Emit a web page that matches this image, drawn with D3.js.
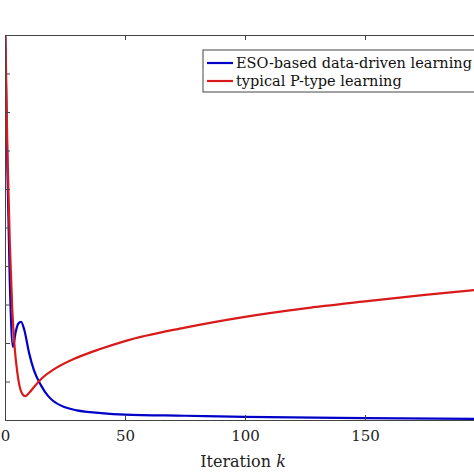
<!DOCTYPE html>
<html><head><meta charset="utf-8">
<script src="https://cdn.jsdelivr.net/npm/d3@7"></script>
<style>body{margin:0;background:#fff}text{font-family:"DejaVu Serif","Liberation Serif",serif}</style>
</head><body>
<svg id="chart" width="474" height="474"></svg>
<script>
const blueK = [0, 1, 2, 3.3, 4.5, 5.5, 6.7, 8, 10, 12, 15, 18, 20, 25, 30, 40, 50, 75, 100, 150, 200];
const blueV = [10.3, 6.5, 3.6, 1.9, 2.3, 2.5, 2.55, 2.35, 1.75, 1.3, 0.9, 0.62, 0.5, 0.33, 0.25, 0.18, 0.14, 0.11, 0.08, 0.05, 0.03];
const redK = [0, 1, 2, 3, 4, 5, 6, 7, 8.3, 10, 12, 15.5, 20, 30, 40, 50, 75, 100, 125, 150, 175, 200];
const redV = [10.6, 7, 4.6, 2.9, 1.9, 1.3, 0.9, 0.7, 0.62, 0.7, 0.85, 1.09, 1.3, 1.62, 1.85, 2.05, 2.4, 2.68, 2.9, 3.08, 3.25, 3.4];
const xTicks = [0, 50, 100, 150, 200];
const legendLabels = ["ESO-based data-driven learning", "typical P-type learning"];
const colors = ["#0000c8", "#d91a1a"];

const svg = d3.select("#chart");
const x = d3.scaleLinear().domain([0, 200]).range([5, 485]);
const y = d3.scaleLinear().domain([0, 10]).range([420, 35]);

svg.append("defs").append("clipPath").attr("id", "clip")
  .append("rect").attr("x", 5).attr("y", 35).attr("width", 480).attr("height", 385);

const line = d3.line().x(d => x(d[0])).y(d => y(d[1])).curve(d3.curveMonotoneX);
const plot = svg.append("g").attr("clip-path", "url(#clip)");
[[blueK, blueV], [redK, redV]].forEach(([ks, vs], i) => {
  plot.append("path").datum(ks.map((k, j) => [k, vs[j]]))
    .attr("d", line).attr("fill", "none").attr("stroke", colors[i]).attr("stroke-width", 2.2);
});

const axisColor = "#444";
svg.append("g").attr("transform", "translate(0,420)")
  .call(d3.axisBottom(x).tickValues(xTicks).tickSizeInner(-5).tickSizeOuter(0).tickPadding(10)
    .tickFormat(d => d === 200 ? "" : d))
  .call(g => g.selectAll("text").attr("font-size", 15).attr("fill", "#222"))
  .call(g => g.selectAll("line,path").attr("stroke", axisColor));
svg.append("g").attr("transform", "translate(5,0)")
  .call(d3.axisLeft(y).ticks(10).tickSizeInner(-5).tickSizeOuter(0).tickFormat(""))
  .call(g => g.selectAll("line,path").attr("stroke", axisColor));
svg.append("g").attr("transform", "translate(0,35)")
  .call(d3.axisTop(x).tickValues(xTicks).tickSizeInner(-5).tickSizeOuter(0).tickFormat(""))
  .call(g => g.selectAll("line,path").attr("stroke", axisColor));

svg.append("text").attr("x", 243).attr("y", 467).attr("text-anchor", "middle")
  .attr("font-size", 16).attr("fill", "#222")
  .html('Iteration <tspan font-style="italic">k</tspan>');

const lg = svg.append("g").attr("transform", "translate(203,50)");
lg.append("rect").attr("width", 290).attr("height", 42).attr("fill", "#fff").attr("stroke", axisColor);
legendLabels.forEach((t, i) => {
  const yy = 13 + i * 18;
  lg.append("line").attr("x1", 4).attr("x2", 30).attr("y1", yy).attr("y2", yy)
    .attr("stroke", colors[i]).attr("stroke-width", 2.2);
  lg.append("text").attr("x", 33).attr("y", yy + 5).attr("font-size", 14.5).attr("fill", "#111").text(t);
});
</script>
</body></html>
